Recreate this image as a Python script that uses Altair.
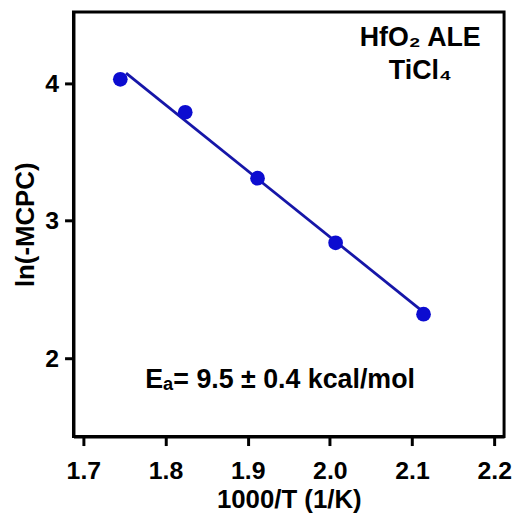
import altair as alt
import pandas as pd

# measured data points
inv_T = [1.745, 1.824, 1.912, 2.007, 2.114]
ln_mcpc = [4.03, 3.79, 3.31, 2.84, 2.32]

# linear (Arrhenius) fit end points
fit_x = [1.752, 2.114]
fit_y = [4.075, 2.335]

x_ticks = [1.7, 1.8, 1.9, 2.0, 2.1, 2.2]
y_ticks = [2, 3, 4]

FONT = "Liberation Sans"

pts = pd.DataFrame({"x": inv_T, "y": ln_mcpc})
fit = pd.DataFrame({"x": fit_x, "y": fit_y})

xs = alt.Scale(domain=[1.688, 2.212], nice=False, zero=False)
ys = alt.Scale(domain=[1.429, 4.52], nice=False, zero=False)

xaxis = alt.Axis(values=x_ticks, format=".1f", title="1000/T (1/K)", labelPadding=13, titlePadding=3)
yaxis = alt.Axis(values=y_ticks, format="d", title="ln(-MCPC)", labelPadding=6, titlePadding=6)

line = alt.Chart(fit).mark_line(color="#1616a8", strokeWidth=2.8).encode(
    x=alt.X("x:Q", scale=xs, axis=xaxis),
    y=alt.Y("y:Q", scale=ys, axis=yaxis),
)

points = alt.Chart(pts).mark_circle(color="#0c0cd0", size=220, opacity=1).encode(
    x=alt.X("x:Q", scale=xs),
    y=alt.Y("y:Q", scale=ys),
)

ann = pd.DataFrame({
    "x": [2.110, 2.110, 1.9395],
    "y": [4.275, 4.029, 1.780],
    "t": ["HfO\u2082 ALE", "TiCl\u2084", "E\u2090= 9.5 \u00b1 0.4 kcal/mol"],
})
texts = alt.Chart(ann).mark_text(
    font=FONT, fontWeight="bold", fontSize=27, color="black", align="center", baseline="alphabetic"
).encode(x=alt.X("x:Q", scale=xs), y=alt.Y("y:Q", scale=ys), text="t:N")

chart = alt.layer(line, points, texts).properties(
    width=434, height=428,
    autosize=alt.AutoSizeParams(type="none"),
    padding={"left": 66, "top": 2, "right": 8, "bottom": 76},
).configure_view(
    stroke="black", strokeWidth=3
).configure_axis(
    grid=False,
    labelFont=FONT, labelFontWeight="bold", labelFontSize=25, labelColor="black",
    titleFont=FONT, titleFontWeight="bold", titleFontSize=26, titleColor="black",
    tickColor="black", tickWidth=3, tickSize=9,
    domainColor="black", domainWidth=3,
)

chart.save("out.html", embed_options={"renderer": "svg", "actions": False})
